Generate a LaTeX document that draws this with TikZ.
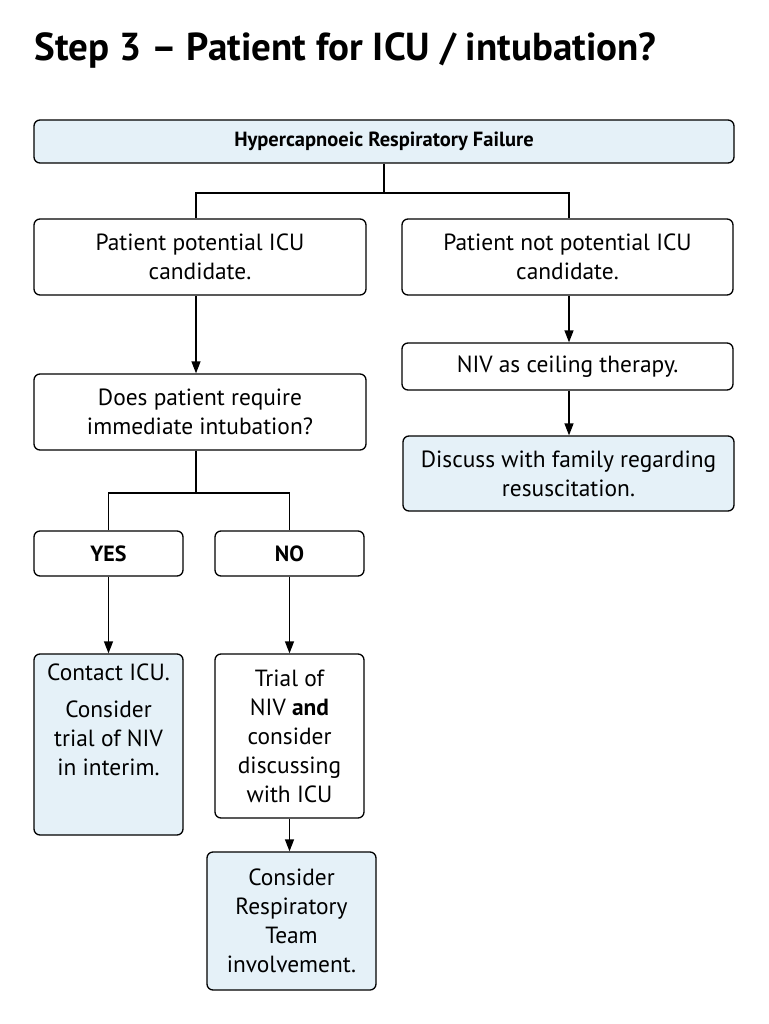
\documentclass[tikz,border=0pt]{standalone}
\usepackage{fontspec}
\setmainfont{PT Sans}
\usetikzlibrary{arrows.meta}
\definecolor{lb}{HTML}{E5F1F8}
\begin{document}
\begin{tikzpicture}[x=1pt,y=-1pt,
 bx/.style={draw,line width=1.3pt,rounded corners=6pt,align=center,font=\fontsize{23.4}{29}\selectfont,inner sep=0pt},
 bl/.style={bx,fill=lb},
 ln/.style={line width=1.3pt},
 ar/.style={ln,-{Triangle[length=12pt,width=9pt]}}]
\useasboundingbox (0,0) rectangle (768,1024);
\node[anchor=west,font=\fontsize{39}{44}\selectfont\bfseries] (title) at (31,50) {Step 3 – Patient for ICU / intubation?};
\node[bl,minimum width=700,minimum height=43,font=\fontsize{20.5}{24}\selectfont\bfseries] (hrf) at (384,141.5) {Hypercapnoeic Respiratory Failure};
\node[bx,minimum width=332,minimum height=76] (pot) at (200,257) {Patient potential ICU\\candidate.};
\node[bx,minimum width=331,minimum height=76] (not) at (567.5,257) {Patient not potential ICU\\candidate.};
\node[bx,minimum width=332,minimum height=76] (req) at (200,412) {Does patient require\\immediate intubation?};
\node[bx,minimum width=331,minimum height=47] (niv) at (567.5,366.5) {NIV as ceiling therapy.};
\node[bl,minimum width=331,minimum height=75] (fam) at (568.5,473.5) {Discuss with family regarding\\resuscitation.};
\node[bx,minimum width=149,minimum height=45,font=\fontsize{22}{24}\selectfont\bfseries] (yes) at (108.5,553.5) {YES};
\node[bx,minimum width=149,minimum height=45,font=\fontsize{22}{24}\selectfont\bfseries] (no) at (289.5,553.5) {NO};
\node[bl,minimum width=149,minimum height=181] (icu) at (108.5,744.5) {};
\node[align=center,font=\fontsize{23.4}{29}\selectfont,anchor=north] (icut) at (108.5,660) {Contact ICU.\\[8pt]Consider\\trial of NIV\\in interim.};
\node[bx,minimum width=149,minimum height=164] (trial) at (289.5,736) {Trial of\\NIV \textbf{and}\\consider\\discussing\\with ICU};
\node[bl,minimum width=169,minimum height=138] (resp) at (291.5,921) {Consider\\Respiratory\\Team\\involvement.};
\coordinate (j1) at (384,193);
\draw[ln] (hrf.south -| j1) -- (j1);
\draw[ln] (pot.north -| 196,0) |- (j1) -| (not.north -| 569,0);
\draw[ar] (pot.south -| 196,0) -- (req.north -| 196,0);
\draw[ar] (not.south -| 569,0) -- (niv.north -| 569,0);
\draw[ar] (niv.south -| 569,0) -- (fam.north -| 569,0);
\coordinate (j2) at (196,493);
\draw[ln] (req.south -| j2) -- (j2);
\draw[ln] (yes.north) |- (j2) -| (no.north);
\draw[ar] (yes.south) -- (icu.north);
\draw[ar] (no.south) -- (trial.north);
\draw[ar] (trial.south) -- (trial.south |- resp.north);
\end{tikzpicture}
\end{document}
